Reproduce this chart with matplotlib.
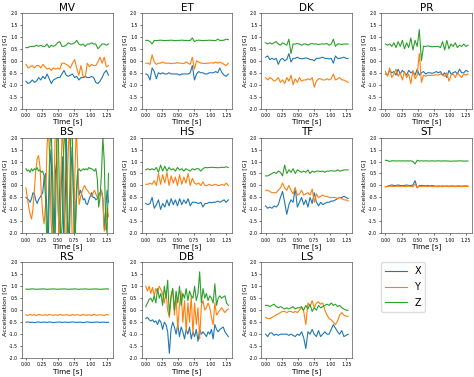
import numpy as np
import matplotlib
matplotlib.use("Agg")
import matplotlib.pyplot as plt

titles = ["MV", "ET", "DK", "PR", "BS", "HS", "TF", "ST", "RS", "DB", "LS"]
t_end = 1.28

mv_x = [-0.85,-0.95,-0.9,-0.8,-0.9,-0.85,-0.7,-0.8,-0.65,-0.75,-0.55,-0.75,-0.95,-0.8,-0.75,-0.7,-0.7,-0.55,-0.4,-0.6,-0.65,-0.6,-0.55,-0.7,-0.65,-0.8,-0.7,-0.7,-0.65,-0.7,-0.7,-0.65,-0.7,-0.9,-0.95,-0.85,-0.7,-0.5,-0.4,-0.6]
mv_y = [-0.15,-0.3,-0.25,-0.2,-0.3,-0.2,-0.2,-0.3,-0.15,-0.25,-0.35,-0.3,-0.4,-0.3,-0.35,-0.3,-0.35,-0.1,-0.1,-0.15,-0.2,-0.3,-0.1,0.05,-0.3,-0.6,-0.2,-0.65,-0.7,-0.1,-0.25,-0.15,-0.2,-0.2,-0.05,0.15,-0.1,0.15,-0.25,-0.2]
mv_z = [0.55,0.55,0.6,0.6,0.6,0.65,0.6,0.65,0.6,0.6,0.7,0.55,0.65,0.6,0.65,0.75,0.8,0.6,0.6,0.65,0.75,0.7,0.7,0.75,0.85,0.7,0.65,0.7,0.6,0.7,0.7,0.75,0.7,0.7,0.5,0.6,0.7,0.7,0.65,0.7]

et_x = [-0.55,-0.6,-0.8,-0.3,-0.45,-0.75,-0.5,-0.55,-0.5,-0.55,-0.55,-0.5,-0.55,-0.55,-0.55,-0.55,-0.6,-0.55,-0.55,-0.55,-0.55,-0.5,-0.2,-0.8,-0.55,-0.45,-0.5,-0.5,-0.55,-0.55,-0.5,-0.5,-0.5,-0.45,-0.5,-0.3,-0.5,-0.6,-0.65,-0.55]
et_y = [-0.1,-0.1,-0.15,0.25,-0.05,-0.15,-0.1,-0.1,-0.05,-0.1,-0.1,-0.1,-0.12,-0.1,-0.1,-0.08,-0.1,-0.1,-0.12,-0.05,-0.1,-0.15,0.15,-0.35,0.0,-0.05,-0.1,-0.1,-0.12,-0.1,-0.1,-0.08,-0.1,-0.05,-0.1,-0.05,-0.1,-0.15,-0.2,-0.1]
et_z = [0.85,0.85,0.8,0.7,0.85,0.84,0.85,0.86,0.85,0.84,0.85,0.85,0.86,0.85,0.84,0.85,0.85,0.86,0.85,0.85,0.84,0.85,0.95,0.8,0.85,0.86,0.85,0.84,0.85,0.85,0.86,0.85,0.85,0.84,0.9,0.85,0.85,0.86,0.9,0.88]

dk_x = [0.15,0.2,0.05,0.1,0.05,0.1,-0.15,0.05,0.1,0.0,0.05,0.3,-0.05,0.1,0.1,0.15,0.1,0.08,0.1,0.12,0.1,0.05,0.05,0.0,0.1,0.1,0.12,0.15,0.1,0.1,0.08,0.1,-0.1,0.2,0.1,0.1,0.12,0.15,0.1,0.1]
dk_y = [-0.7,-0.8,-0.7,-0.75,-0.85,-0.8,-0.7,-0.9,-0.8,-0.95,-0.7,-0.85,-0.6,-1.0,-0.75,-0.9,-0.7,-0.85,-0.8,-0.8,-0.75,-0.8,-0.7,-1.1,-0.85,-0.75,-0.75,-0.8,-0.8,-0.75,-0.8,-0.75,-0.55,-0.8,-0.75,-0.7,-0.8,-0.8,-0.85,-0.9]
dk_z = [0.75,0.7,0.75,0.7,0.75,0.8,0.7,0.65,0.75,0.7,0.65,0.9,0.3,0.7,0.7,0.72,0.7,0.65,0.7,0.7,0.65,0.7,0.72,0.7,0.7,0.68,0.7,0.7,0.7,0.72,0.65,0.7,0.9,0.6,0.7,0.7,0.68,0.7,0.7,0.7]

pr_x = [-0.55,-0.6,-0.4,-0.5,-0.45,-0.6,-0.35,-0.55,-0.4,-0.5,-0.6,-0.4,-0.5,-0.45,-0.6,-0.35,-0.6,-0.5,-0.45,-0.55,-0.5,-0.5,-0.52,-0.5,-0.45,-0.5,-0.45,-0.6,-0.5,-0.7,-0.4,-0.55,-0.5,-0.45,-0.55,-0.35,-0.5,-0.5,-0.4,-0.45]
pr_y = [-0.45,-0.65,-0.3,-0.7,-0.55,-0.35,-0.65,-0.5,-0.8,-0.45,-0.7,-0.55,-0.95,-0.4,-0.75,-0.6,0.3,-0.9,-0.6,-0.65,-0.6,-0.62,-0.6,-0.6,-0.58,-0.6,-0.55,-0.6,-0.65,-0.5,-0.85,-0.6,-0.55,-0.7,-0.5,-0.6,-0.7,-0.55,-0.6,-0.55]
pr_z = [0.7,0.65,0.7,0.6,0.75,0.55,0.8,0.6,0.85,0.5,0.75,0.55,0.95,0.45,0.85,0.6,1.3,0.0,0.6,0.6,0.62,0.6,0.58,0.6,0.6,0.6,0.55,0.8,0.45,0.85,0.5,0.7,0.6,0.75,0.55,0.65,0.6,0.7,0.6,0.65]

bs_x = [-0.5,-0.55,-0.6,-0.7,-0.55,-0.3,-0.35,-0.6,-0.75,-0.6,-0.5,-0.4,-0.3,0.3,
        0.5,-1.2,-2.5,0.8,1.5,-1.5,-2.5,0.5,1.0,-0.8,-2.5,-0.5,1.2,-2.2,-1.0,2.0,-1.5,-2.5,0.2,1.6,-0.5,-2.5,-0.3,0.6,-0.4,-0.2,
        -0.4,-0.6,-0.55,-0.75,-0.8,-0.6,-0.45,-0.3,-0.5,-0.5,-0.6,-0.55,-0.4,-0.3,-0.2,-0.6,-1.8,-1.0,-0.2,-0.7]
bs_y = [-0.1,-0.5,-0.9,-1.2,-1.4,-1.0,-0.2,0.6,1.1,1.25,0.8,-0.3,-1.2,-1.6,
        -0.8,1.5,2.5,1.0,-1.5,-2.5,-0.5,2.5,2.2,-1.0,-2.5,0.5,2.5,1.0,-2.0,-2.5,1.0,2.5,0.8,-2.0,-2.5,0.5,2.5,0.8,-0.8,-0.5,
        -0.3,-0.1,0.0,-0.15,-0.2,-0.3,-0.35,-0.45,-0.3,-0.2,-0.35,-0.5,-0.45,-0.35,-0.2,-0.5,-1.9,-1.8,-0.9,-1.3]
bs_z = [0.7,0.6,0.65,0.55,0.7,0.6,0.7,0.65,0.75,0.6,0.65,0.55,0.6,0.4,
        -0.5,-2.5,-1.0,1.5,2.5,0.5,-2.5,-2.0,1.8,2.5,-0.5,-2.5,-1.5,1.5,2.5,0.0,-2.5,-1.5,2.0,2.5,-0.5,-2.5,-0.8,0.6,0.7,0.6,
        0.65,0.7,0.65,0.7,0.65,0.75,0.7,0.7,0.65,0.6,0.7,0.3,-0.9,-0.5,0.5,2.0,1.0,-1.5,-2.0,0.5]

hs_x = [-0.75,-0.8,-0.75,-0.5,-0.95,-0.8,-0.6,-1.0,-0.75,-0.9,-0.6,-0.85,-0.55,-0.8,-0.6,-0.85,-0.55,-0.8,-0.6,-0.75,-0.55,-0.85,-0.7,-0.7,-0.72,-0.75,-0.7,-0.9,-0.75,-0.75,-0.7,-0.72,-0.7,-0.7,-0.65,-0.7,-0.65,-0.6,-0.7,-0.6]
hs_y = [0.05,0.05,0.1,0.05,0.2,0.0,0.5,0.05,0.45,0.1,0.55,0.0,0.4,0.1,0.35,0.0,0.45,0.05,0.35,0.1,0.5,0.0,0.3,0.1,0.05,0.1,0.0,0.15,0.0,0.0,0.05,0.0,0.02,0.05,0.0,0.0,0.05,0.0,0.1,0.0]
hs_z = [0.65,0.7,0.65,0.7,0.65,0.75,0.55,0.85,0.6,0.8,0.6,0.75,0.65,0.7,0.6,0.75,0.65,0.7,0.6,0.7,0.65,0.6,0.7,0.65,0.7,0.7,0.6,0.7,0.75,0.74,0.75,0.76,0.75,0.75,0.74,0.75,0.76,0.75,0.78,0.75]

tf_x = [-0.85,-0.95,-0.9,-0.95,-0.85,-0.9,-0.8,-0.5,-0.25,-0.7,-1.2,-0.8,-0.6,-0.7,-0.1,-0.9,-0.7,-0.5,-0.8,-0.6,-0.9,-0.5,-0.75,-0.3,-0.7,-0.85,-0.7,-0.8,-0.75,-0.7,-0.7,-0.65,-0.65,-0.6,-0.55,-0.5,-0.5,-0.45,-0.5,-0.55]
tf_y = [-0.2,-0.2,-0.25,-0.3,-0.3,-0.3,-0.2,-0.1,0.1,-0.1,-0.2,0.0,-0.2,-0.35,-0.1,-0.4,-0.35,-0.2,-0.4,-0.35,-0.3,-0.4,-0.15,-0.7,-0.35,-0.5,-0.45,-0.4,-0.45,-0.45,-0.5,-0.5,-0.5,-0.5,-0.55,-0.5,-0.55,-0.6,-0.6,-0.65]
tf_z = [0.4,0.4,0.45,0.5,0.55,0.5,0.6,0.55,0.4,0.85,0.5,0.65,0.55,0.7,0.5,0.65,0.6,0.55,0.6,0.55,0.65,0.5,0.6,0.55,0.6,0.6,0.58,0.6,0.55,0.6,0.6,0.62,0.6,0.6,0.65,0.6,0.62,0.65,0.65,0.65]

st_x = [-0.05,-0.03,0.0,0.02,0.0,0.0,0.02,0.0,0.0,0.0,0.02,0.0,0.0,0.02,0.2,-0.1,0.0,0.0,0.0,-0.02,0.0,-0.02,0.0,-0.02,-0.03,-0.02,-0.03,-0.02,-0.03,-0.02,-0.03,-0.02,-0.02,-0.03,-0.02,-0.02,-0.03,-0.02,-0.02,-0.03]
st_y = [-0.05,-0.05,-0.03,-0.04,-0.04,-0.03,-0.04,-0.04,-0.03,-0.04,-0.04,-0.03,-0.04,-0.05,0.05,-0.08,-0.03,-0.04,-0.03,-0.04,-0.04,-0.03,-0.04,-0.05,-0.04,-0.05,-0.04,-0.05,-0.04,-0.04,-0.05,-0.04,-0.04,-0.05,-0.04,-0.04,-0.05,-0.04,-0.04,-0.04]
st_z = [1.05,1.04,1.0,1.03,1.03,1.02,1.03,1.02,1.03,1.02,1.03,1.02,1.03,1.0,0.9,1.05,1.02,1.03,1.02,1.03,1.02,1.02,1.03,1.02,1.02,1.03,1.02,1.02,1.03,1.02,1.02,1.01,1.02,1.02,1.02,1.03,1.02,1.02,1.02,1.02]

rs_x = [-0.5,-0.49,-0.51,-0.5,-0.52,-0.5,-0.49,-0.51,-0.5,-0.5,-0.51,-0.49,-0.5,-0.52,-0.5,-0.5,-0.49,-0.51,-0.5,-0.5,-0.51,-0.5,-0.49,-0.5,-0.51,-0.5,-0.5,-0.52,-0.5,-0.49,-0.5,-0.51,-0.5,-0.5,-0.49,-0.51,-0.5,-0.5,-0.51,-0.5]
rs_y = [-0.2,-0.22,-0.18,-0.21,-0.19,-0.22,-0.18,-0.2,-0.21,-0.19,-0.22,-0.18,-0.2,-0.21,-0.19,-0.22,-0.18,-0.2,-0.21,-0.19,-0.2,-0.22,-0.18,-0.21,-0.19,-0.2,-0.22,-0.18,-0.2,-0.21,-0.19,-0.22,-0.18,-0.2,-0.21,-0.19,-0.2,-0.22,-0.18,-0.2]
rs_z = [0.88,0.87,0.88,0.89,0.88,0.87,0.88,0.88,0.89,0.88,0.87,0.88,0.88,0.89,0.88,0.87,0.88,0.88,0.89,0.88,0.87,0.88,0.88,0.89,0.88,0.87,0.88,0.88,0.89,0.88,0.87,0.88,0.88,0.89,0.88,0.87,0.88,0.88,0.89,0.88]

db_x = [-0.35,-0.3,-0.4,-0.45,-0.4,-0.5,-0.45,-0.6,-0.4,-0.5,-0.8,-0.5,-0.6,-0.9,-1.8,-0.8,-0.5,-0.7,-1.0,-0.6,-1.1,-0.7,-0.9,-1.2,-0.8,-1.0,-0.7,-1.2,-0.9,-1.1,-0.8,-1.3,-0.8,-1.0,-0.9,-1.0,-1.1,-0.9,-1.0,-0.8,-1.2,-0.6,-0.8,-0.9,-0.8,-0.75,-0.7,-0.9,-1.0,-1.1]
db_y = [1.0,0.8,1.0,0.7,0.95,0.6,0.9,0.75,1.0,0.85,0.7,0.3,0.8,0.0,-0.3,0.5,0.9,-0.2,0.6,-0.8,0.2,0.8,-0.5,0.4,-0.9,0.3,-0.5,0.6,-1.0,0.3,-0.6,0.1,-1.2,0.2,0.4,0.0,0.1,0.3,0.1,-0.3,-0.6,0.3,-0.2,-0.1,0.0,0.1,0.0,-0.1,0.0,0.05]
db_z = [0.15,0.3,0.45,0.5,0.35,0.6,0.3,0.9,0.5,0.7,0.2,1.0,0.5,1.25,-0.2,0.6,0.9,0.0,0.8,0.3,1.0,0.2,0.7,0.5,0.9,0.4,0.8,0.6,0.5,1.0,0.4,0.7,1.6,0.3,0.9,0.5,0.7,0.4,0.6,0.5,0.3,1.1,0.2,0.5,0.6,0.5,0.55,0.6,0.3,0.2]

ls_x = [-1.0,-1.1,-0.95,-0.95,-1.05,-1.0,-1.05,-1.0,-1.0,-1.0,-1.0,-1.05,-1.0,-1.05,-1.1,-1.0,-1.05,-0.9,-1.15,-1.6,-0.9,-1.0,-0.8,-1.0,-1.1,-0.85,-1.1,-1.0,-0.9,-1.0,-1.0,-0.8,-0.6,-0.75,-0.9,-1.0,-0.85,-1.1,-1.05,-1.0]
ls_y = [-0.3,-0.35,-0.35,-0.3,-0.25,-0.2,-0.15,-0.1,-0.05,-0.05,-0.1,-0.05,-0.05,-0.1,-0.05,-0.1,0.0,0.1,-0.05,-0.6,0.3,0.15,0.4,0.1,0.3,0.35,0.25,0.3,0.0,-0.2,-0.35,-0.4,-0.5,-0.6,-0.45,-0.2,-0.1,-0.2,-0.25,-0.25]
ls_z = [0.2,0.2,0.15,0.2,0.25,0.15,0.1,0.15,0.1,0.05,0.1,0.05,0.1,0.15,0.05,0.1,0.1,0.15,0.0,0.2,0.05,0.25,-0.05,0.1,0.0,0.2,0.1,0.15,0.2,0.25,0.2,0.3,0.2,0.25,0.15,0.2,0.1,0.05,0.0,0.0]

series = [
    (mv_x, mv_y, mv_z), (et_x, et_y, et_z), (dk_x, dk_y, dk_z), (pr_x, pr_y, pr_z),
    (bs_x, bs_y, bs_z), (hs_x, hs_y, hs_z), (tf_x, tf_y, tf_z), (st_x, st_y, st_z),
    (rs_x, rs_y, rs_z), (db_x, db_y, db_z), (ls_x, ls_y, ls_z),
]
labels = ["X", "Y", "Z"]
colors = ["#1f77b4", "#ff7f0e", "#2ca02c"]
xticks = [0.0, 0.25, 0.5, 0.75, 1.0, 1.25]
yticks = [-2.0, -1.5, -1.0, -0.5, 0.0, 0.5, 1.0, 1.5, 2.0]

fig, axes = plt.subplots(3, 4, figsize=(4.74, 3.77), dpi=100)
fig.subplots_adjust(left=0.046, right=0.996, top=0.966, bottom=0.05, wspace=0.32, hspace=0.30)
axs = axes.ravel()
handles = []
for i, (ax, title, data) in enumerate(zip(axs, titles, series)):
    for s, lab, c in zip(data, labels, colors):
        t = np.linspace(0, t_end, len(s))
        h, = ax.plot(t, s, color=c, lw=0.8, label=lab)
        if i == 0:
            handles.append(h)
    ax.set_ylim(-2, 2)
    ax.set_xticks(xticks)
    ax.set_xticklabels([f"{v:.2f}" for v in xticks])
    ax.set_yticks(yticks)
    ax.set_yticklabels([f"{v:.1f}" for v in yticks])
    ax.tick_params(labelsize=3.3, length=1.5, width=0.4, pad=1.5)
    ax.set_title(title, fontsize=7.5, pad=1.5)
    ax.set_xlabel("Time [s]", fontsize=5.2, labelpad=0.5)
    ax.set_ylabel("Acceleration [G]", fontsize=4.6, labelpad=1)
    for sp in ax.spines.values():
        sp.set_linewidth(0.5)
        sp.set_color("#555555")

axs[11].axis("off")
axs[11].legend(handles=handles, loc="upper left", bbox_to_anchor=(0.0, 1.0),
               borderaxespad=0, fontsize=7, handlelength=2.2, labelspacing=0.6,
               framealpha=1, edgecolor="#dddddd")

fig.savefig("out.png", dpi=100)
